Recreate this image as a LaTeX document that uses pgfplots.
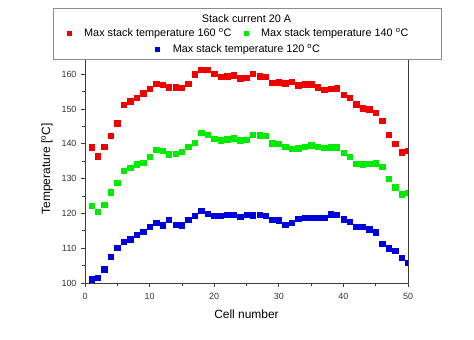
\documentclass[border=0pt]{standalone}
\usepackage{pgfplots}
\pgfplotsset{compat=1.18}
\usepackage{fontspec}
\setmainfont{Liberation Sans}

\definecolor{sred}{RGB}{240,0,0}
\definecolor{sgreen}{RGB}{0,235,0}
\definecolor{sblue}{RGB}{0,0,220}
\definecolor{frame}{RGB}{60,60,60}

% Maximum cell temperature along the stack, 20 A
\pgfplotstableread{
cell red green blue
1 139.0 122.2 101.1
2 136.5 120.5 101.5
3 139.2 122.5 104.0
4 142.3 126.1 107.5
5 145.9 128.8 110.1
6 151.3 132.2 111.9
7 152.3 133.1 112.6
8 153.2 134.2 113.9
9 154.6 134.6 114.7
10 155.8 136.3 116.2
11 157.3 138.4 117.3
12 157.0 138.0 116.6
13 156.3 137.0 118.2
14 156.3 137.2 116.8
15 156.2 137.8 116.6
16 157.3 139.1 118.2
17 160.0 140.4 119.4
18 161.4 143.2 120.7
19 161.3 142.6 120.0
20 160.2 141.4 119.3
21 159.3 141.0 119.4
22 159.4 141.3 119.7
23 159.7 141.6 119.7
24 158.9 141.0 119.0
25 159.1 141.2 119.6
26 160.2 142.6 119.5
27 159.4 142.5 119.6
28 159.3 142.3 119.4
29 157.5 140.2 118.2
30 157.7 140.0 118.0
31 157.4 139.1 116.8
32 157.9 138.6 117.4
33 156.9 138.7 118.4
34 157.2 139.2 118.8
35 157.2 139.6 118.8
36 156.3 139.1 118.8
37 155.6 138.9 118.8
38 155.9 139.0 119.8
39 156.0 139.0 119.7
40 154.2 137.5 118.3
41 153.3 136.3 117.6
42 151.4 134.3 116.2
43 150.3 134.2 116.1
44 150.0 134.3 115.5
45 148.9 134.4 114.6
46 146.6 133.4 111.3
47 142.7 129.9 110.0
48 140.1 127.5 109.3
49 137.6 125.5 107.2
50 138.0 126.0 105.9
}\stacktemp

\begin{document}
\begin{tikzpicture}
\useasboundingbox (-85bp,-57bp) rectangle (389bp,283bp);
\begin{axis}[
  scale only axis,
  width=323bp, height=224bp,
  at={(0,0)}, anchor=south west,
  xmin=0, xmax=50, ymin=100, ymax=164.4,
  xtick={0,10,...,50}, minor xtick={5,15,...,45},
  ytick={100,110,...,160}, minor ytick={105,115,...,155},
  tick align=outside, xtick pos=left, ytick pos=left,
  major tick length=4bp, minor tick length=2.5bp,
  axis line style={frame, line width=0.9bp},
  every tick/.style={frame, line width=0.8bp},
  /pgf/number format/assume math mode=true,
  tick label style={font=\fontsize{9}{10}\selectfont, text=black!80},
  xticklabel style={yshift=-3bp},
  yticklabel style={xshift=-1bp},
  xlabel={Cell number},
  ylabel={Temperature [\textsuperscript{o}C]},
  label style={font=\fontsize{12}{14}\selectfont},
  xlabel style={at={(axis description cs:0.5,-0.1384)}, anchor=center},
  ylabel style={at={(axis description cs:-0.1176,0.509)}, anchor=center, rotate=0},
  clip marker paths=true,
  every axis plot/.append style={only marks, mark=square*, mark size=2.7bp},
]
\addplot[sred, mark options={draw=sred, fill=sred}] table[x=cell, y=red] {\stacktemp};
\addplot[sgreen, mark options={draw=sgreen, fill=sgreen}] table[x=cell, y=green] {\stacktemp};
\addplot[sblue, mark options={draw=sblue, fill=sblue}] table[x=cell, y=blue] {\stacktemp};
\end{axis}

% legend panel across the top of the plot
\draw[fill=white, draw=black!45, line width=0.7bp] (-32bp,224bp) rectangle (356bp,275bp);
\begin{scope}[every node/.style={font=\fontsize{10.9}{12}\selectfont, inner sep=0pt}]
\node[anchor=center] at (161.5bp,264.7bp) {Stack current 20 A};
\fill[sred]   (-15.7bp,249.7bp) +(-2.5bp,-2.5bp) rectangle +(2.5bp,2.5bp);
\node[anchor=west] at (-1bp,249.7bp) {Max stack temperature 160 \textsuperscript{o}C};
\fill[sgreen] (161bp,249.7bp) +(-2.5bp,-2.5bp) rectangle +(2.5bp,2.5bp);
\node[anchor=west] at (176bp,249.7bp) {Max stack temperature 140 \textsuperscript{o}C};
\fill[sblue]  (72bp,233bp) +(-2.5bp,-2.5bp) rectangle +(2.5bp,2.5bp);
\node[anchor=west] at (87.7bp,233bp) {Max stack temperature 120 \textsuperscript{o}C};
\end{scope}
\end{tikzpicture}
\end{document}
